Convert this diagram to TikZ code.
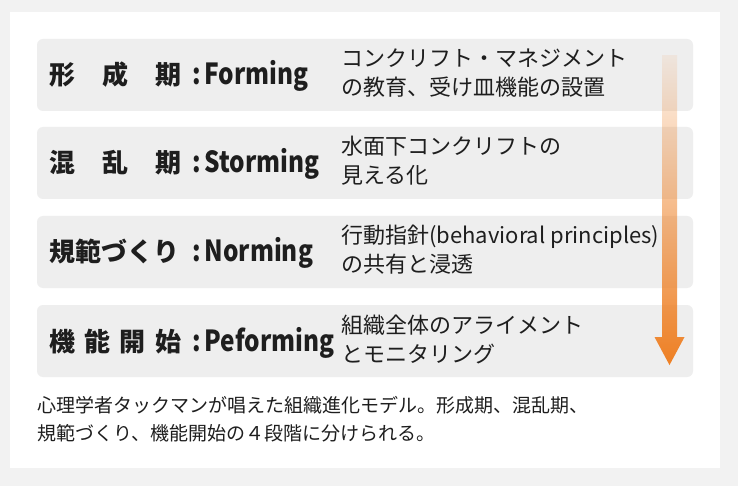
\documentclass[tikz,border=0pt]{standalone}
\usepackage{fontspec}
\setmainfont{Noto Sans CJK JP}
\newfontfamily\narrowfont{Noto Sans CJK JP}[FakeStretch=0.84]
\usetikzlibrary{fadings}
\definecolor{pagebg}{HTML}{F2F2F2}
\definecolor{rowfill}{HTML}{EEEEEE}
\definecolor{ink}{HTML}{1E1E1E}
\definecolor{arroworange}{HTML}{EE8024}
\tikzfading[name=arrowfade, top color=transparent!92, middle color=transparent!45, bottom color=transparent!0]
\tikzset{
  rowbox/.style={fill=rowfill, rounded corners=6bp},
  stage/.style={anchor=base west, inner sep=0pt, text=ink, font=\bfseries\fontsize{26bp}{30bp}\selectfont},
  stageen/.style={anchor=base west, inner sep=0pt, text=ink, font=\narrowfont\bfseries\fontsize{29bp}{32bp}\selectfont},
  note/.style={anchor=west, inner sep=0pt, text=ink, align=left, font=\fontsize{22bp}{29bp}\selectfont},
}
\begin{document}
\begin{tikzpicture}[x=1bp,y=-1bp,line join=round]
  \useasboundingbox[fill=pagebg] (0,0) rectangle (738,486);
  \fill[white] (10,12) rectangle (720,468);
  % four stages
  \foreach \i/\y/\jp/\en/\txt in {
    1/75/{形\hfill{}成\hfill{}期}/Forming/{コンクリフト・マネジメント\\の教育、受け皿機能の設置},
    2/163/{混\hfill{}乱\hfill{}期}/Storming/{水面下コンクリフトの\\見える化},
    3/252/{規範づくり}/Norming/{行動指針(behavioral principles)\\の共有と浸透},
    4/341/{機\hfill{}能\hfill{}開\hfill{}始}/Peforming/{組織全体のアライメント\\とモニタリング}}{
    \fill[rowbox] (37,\y-36) rectangle (693,\y+36);
    \node[stage] (J\i) at (49,\y+10) {\makebox[132bp][l]{\jp}};
    \node[stageen] (E\i) at (192,\y+10) {:\hspace{4bp}\en};
    \node[note] (N\i) at (341,\y-2) {\txt};
  }
  % arrow
  \coordinate (top) at (669.5,55);
  \coordinate (tip) at (669.5,365);
  \fill[arroworange, path fading=arrowfade]
    ([xshift=-7.5bp]top) -- ([xshift=7.5bp]top)
    -- ([shift={(7.5bp,28bp)}]tip) -- ([shift={(15bp,28bp)}]tip) -- (tip)
    -- ([shift={(-15bp,28bp)}]tip) -- ([shift={(-7.5bp,28bp)}]tip) -- cycle;
  \node[anchor=west, inner sep=0pt, text=ink, align=left, font=\fontsize{19bp}{28bp}\selectfont] (C) at (37,419)
    {心理学者タックマンが唱えた組織進化モデル。形成期、混乱期、\\規範づくり、機能開始の４段階に分けられる。};
\end{tikzpicture}
\end{document}
